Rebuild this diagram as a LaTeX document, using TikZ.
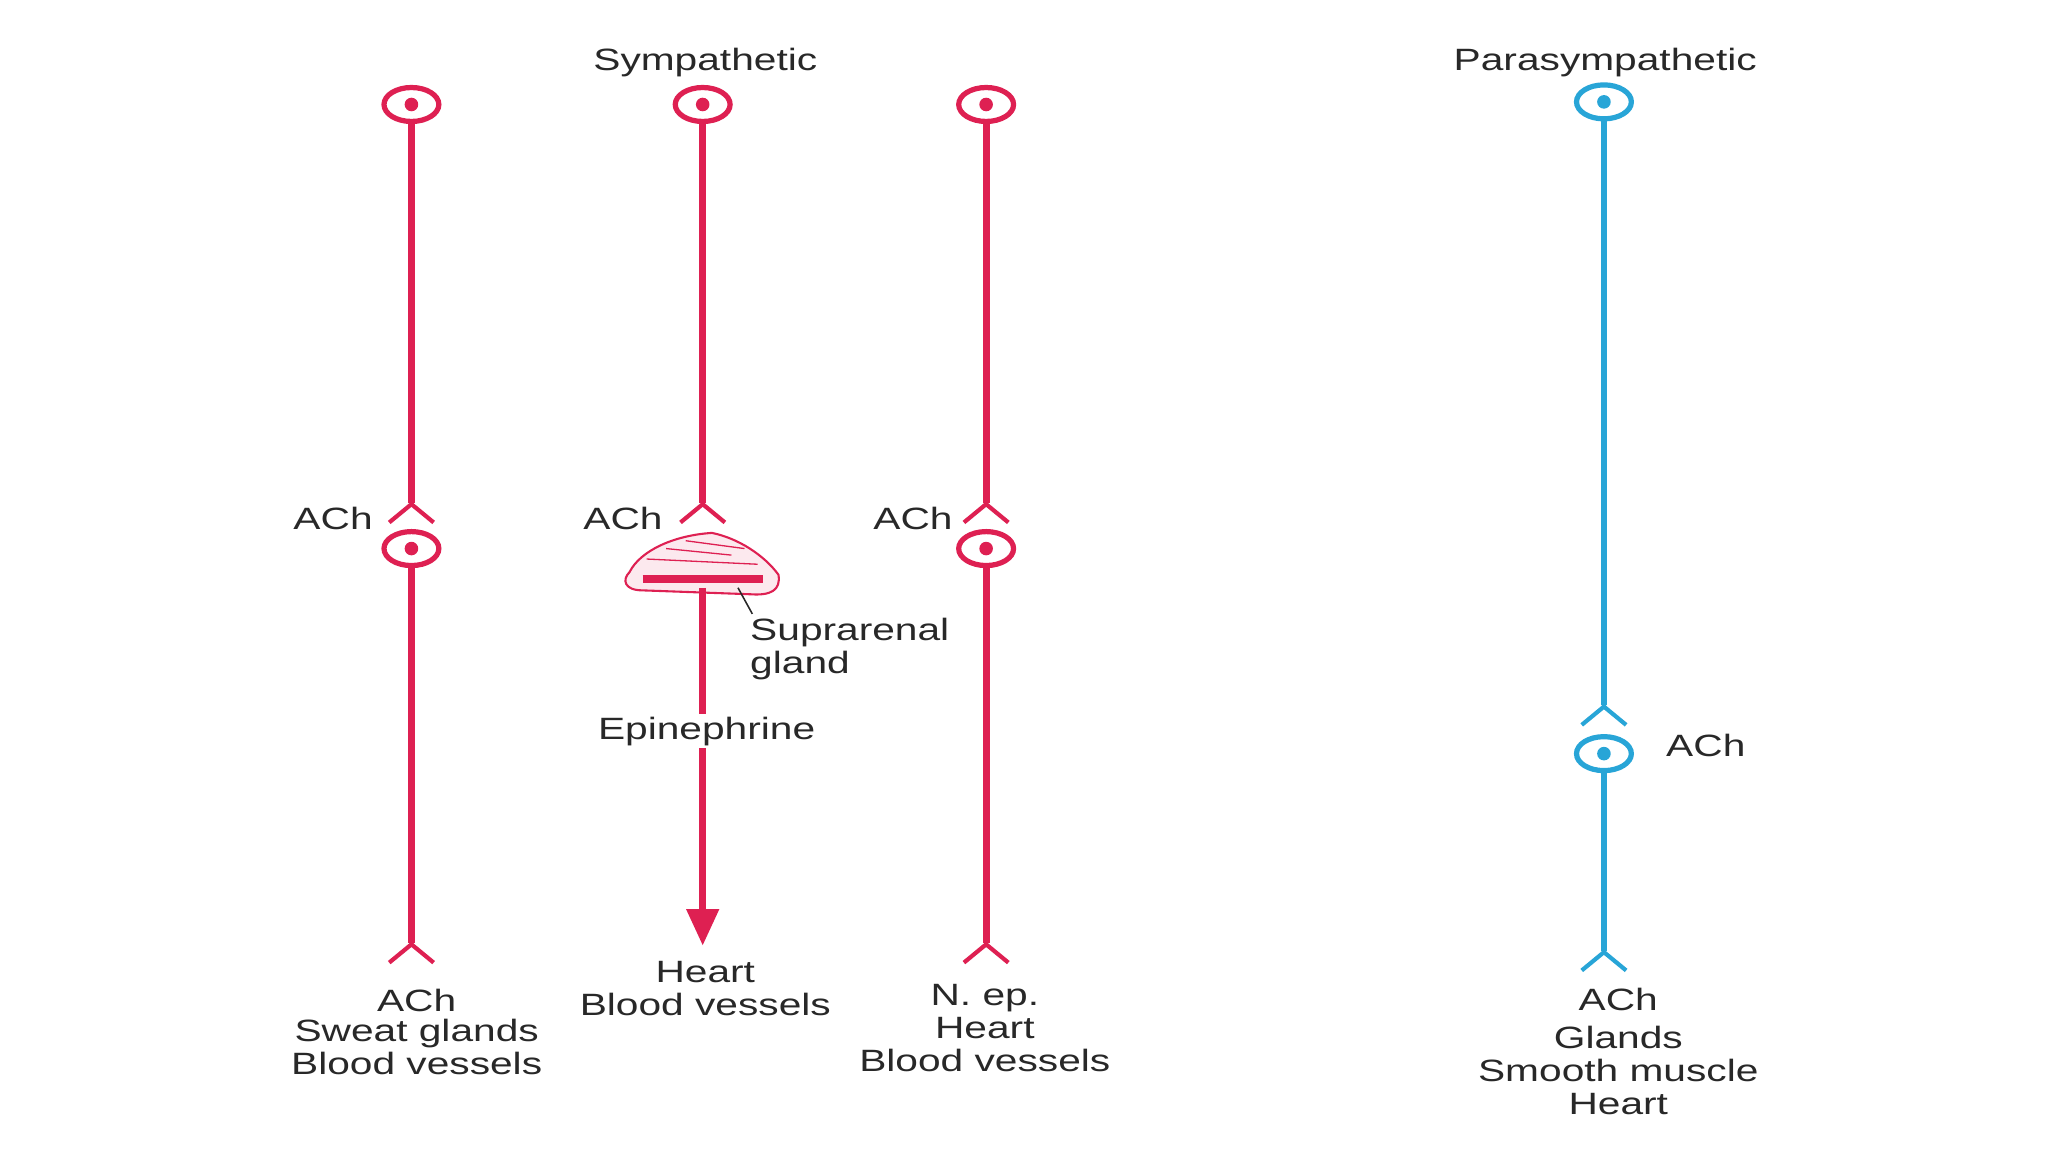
\documentclass[tikz,border=0pt]{standalone}
\usepackage{fontspec}
\setmainfont{Liberation Sans}[FakeStretch=1.32]
\usetikzlibrary{arrows.meta,shapes.geometric}
\definecolor{sym}{RGB}{222,32,82}
\definecolor{par}{RGB}{40,165,215}
\definecolor{txt}{RGB}{40,40,40}
\begin{document}
\begin{tikzpicture}[x=0.5pt,y=-0.5pt,
  ax/.style={line width=2.6pt},
  br/.style={line width=1.6pt},
  soma/.style={draw=#1,line width=2pt,ellipse,minimum width=21pt,minimum height=13pt,inner sep=0pt},
  lab/.style={font=\fontsize{11.8}{12.6}\selectfont,text=txt,inner sep=1pt,align=center},
  wlab/.style={lab,fill=white}]
\useasboundingbox (0,0) rectangle (1568,882);
\newcommand{\fork}[4]{% name, x, y, color
  \coordinate (#1) at (#2,#3);
  \draw[br,#4] (#2,#3-2) -- (#2,#3+1) -- (#2-17,#3+15);
  \draw[br,#4] (#2,#3+1) -- (#2+17,#3+15);}
% line 1
\node[soma=sym] (s1a) at (315,80) {};
\fill[sym] (315,80) circle (2.6pt);
\node[soma=sym] (s1b) at (315,420) {};
\fill[sym] (315,420) circle (2.6pt);
\fork{f1a}{315}{385}{sym}
\fork{f1b}{315}{722}{sym}
\draw[ax,sym] (s1a) -- (f1a);
\draw[ax,sym] (s1b) -- (f1b);
% line 2
\node[soma=sym] (s2a) at (538,80) {};
\fill[sym] (538,80) circle (2.6pt);
\fork{f2a}{538}{385}{sym}
\draw[ax,sym] (s2a) -- (f2a);
% gland
\draw[sym,line width=0.8pt,fill=sym!10] (482,438) .. controls (490,422) and (515,410) .. (545,408)
  .. controls (565,412) and (585,425) .. (596,440) .. controls (598,452) and (590,456) .. (575,455)
  -- (492,452) .. controls (478,452) and (476,444) .. (482,438) -- cycle;
\draw[sym,line width=0.5pt] (495,428) -- (580,432) (510,420) -- (560,425) (525,414) -- (570,420);
\draw[sym,line width=3pt] (492,443) -- (584,443);
\coordinate (g) at (538,450);
\coordinate (arr) at (538,724);
\draw[sym,line width=2.6pt,-{Triangle[length=14pt,width=12pt]}] (g) -- (arr);
\draw[txt,line width=0.6pt] (565,450) -- (576,470);
% line 3
\node[soma=sym] (s3a) at (755,80) {};
\fill[sym] (755,80) circle (2.6pt);
\node[soma=sym] (s3b) at (755,420) {};
\fill[sym] (755,420) circle (2.6pt);
\fork{f3a}{755}{385}{sym}
\fork{f3b}{755}{722}{sym}
\draw[ax,sym] (s3a) -- (f3a);
\draw[ax,sym] (s3b) -- (f3b);
% parasympathetic
\node[soma=par] (p1) at (1228,78) {};
\fill[par] (1228,78) circle (2.6pt);
\node[soma=par] (p2) at (1228,577) {};
\fill[par] (1228,577) circle (2.6pt);
\fork{pf1}{1228}{540}{par}
\fork{pf2}{1228}{728}{par}
\draw[ax,par] (p1) -- (pf1);
\draw[ax,par] (p2) -- (pf2);
% labels
\node[lab] (t1) at (540,48) {Sympathetic};
\node[lab] (t2) at (1229,48) {Parasympathetic};
\node[lab] (a1) at (255,397) {ACh};
\node[lab] (a2) at (477,397) {ACh};
\node[lab] (a3) at (699,397) {ACh};
\node[lab] (a4) at (1306,571) {ACh};
\node[lab,align=left,anchor=west] (sg) at (572,497) {Suprarenal\\gland};
\node[wlab] (ep) at (541,560) {Epinephrine};
\node[lab] (b1) at (319,790) {ACh\\[-1pt]Sweat glands\\Blood vessels};
\node[lab] (b2) at (540,757) {Heart\\Blood vessels};
\node[lab] (b3) at (754,787) {N.\ ep.\\Heart\\Blood vessels};
\node[lab] (b4) at (1239,805) {ACh\\[2pt]Glands\\Smooth muscle\\Heart};
\end{tikzpicture}
\end{document}
